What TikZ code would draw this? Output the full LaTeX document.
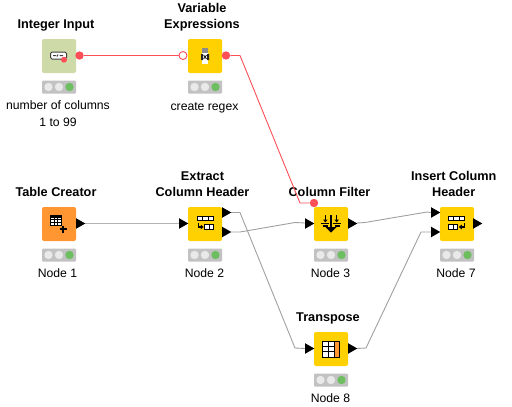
\documentclass[tikz,border=0pt]{standalone}
\usepackage{fontspec}
\setmainfont{Liberation Sans}
\definecolor{kyellow}{HTML}{FFD100}
\definecolor{korange}{HTML}{FF9632}
\definecolor{kgreen}{HTML}{CEDBA8}
\definecolor{kred}{HTML}{FC4F57}
\definecolor{kwire}{HTML}{A0A0A0}
\definecolor{ktraf}{HTML}{C2C2C2}
\definecolor{klamp}{HTML}{E9E9E9}
\definecolor{klgreen}{HTML}{6CBE5F}
\tikzset{
 x=1pt,y=-1pt,
 box/.style={minimum width=34pt,minimum height=34pt,inner sep=0,rounded corners=2pt,fill=#1},
 traf/.style={minimum width=34pt,minimum height=13pt,inner sep=0,rounded corners=1pt,fill=ktraf},
 lamp/.style={circle,minimum size=8.4pt,inner sep=0,fill=#1},
 ttl/.style={font=\fontsize{12.7}{16}\selectfont\bfseries,align=center,inner sep=0},
 lbl/.style={font=\fontsize{12.2}{16.5}\selectfont,align=center,inner sep=0},
 wire/.style={draw=kwire,line width=0.9pt},
 fwire/.style={draw=kred,line width=0.9pt},
 fport/.style={circle,minimum size=8.4pt,inner sep=0,fill=kred},
 fopen/.style={circle,minimum size=8pt,inner sep=0,draw=kred,fill=white,line width=0.9pt},
 ink/.style={draw=black,line width=1pt},
 tablecell/.style={draw=black,line width=1pt,fill=white},
}
\newcommand{\lights}[3]{%
 \node[traf] (#1t) at (#2,#3+31) {};
 \node[lamp=klamp] (#1a) at (#2-10.5,#3+31) {};
 \node[lamp=klamp] (#1b) at (#2,#3+31) {};
 \node[lamp=klgreen] (#1c) at (#2+10.5,#3+31) {};
}
\newcommand{\porttri}[3]{%
 \coordinate (#1) at (#2,#3);
 \fill[black] (#2,#3-5.3) -- (#2+9.3,#3) -- (#2,#3+5.3) -- cycle;
}
\begin{document}
\begin{tikzpicture}
\useasboundingbox (0,0) rectangle (512,407);
% wire bends
\coordinate (p1) at (240,55.5);
\coordinate (p2) at (300,203);
\coordinate (q1) at (240,212.5);
\coordinate (q2) at (295,348);
\coordinate (r1) at (240,232);
\coordinate (r2) at (295,222.5);
\coordinate (s1) at (365,222.5);
\coordinate (s2) at (427,212);
\coordinate (t1) at (366,348);
\coordinate (t2) at (421,232);
% nodes
\node[box=kgreen] (n1) at (59,56) {};
\node[box=kyellow] (n2) at (205,56) {};
\node[box=korange] (n3) at (59,224) {};
\node[box=kyellow] (n4) at (205,224) {};
\node[box=kyellow] (n5) at (331,224) {};
\node[box=kyellow] (n6) at (457,224) {};
\node[box=kyellow] (n7) at (331,349) {};
\lights{n1}{59}{56}\lights{n2}{205}{56}\lights{n3}{59}{224}\lights{n4}{205}{224}
\lights{n5}{331}{224}\lights{n6}{457}{224}\lights{n7}{331}{349}
% icon: Integer Input
\draw[draw=black!75,line width=1pt,fill=white,rounded corners=1.5pt] (50.5,52) rectangle (66.5,59);
\draw[black!75,line width=1pt] (53,55.5) -- (56,55.5) (58,54.5) -- (57,56.5) (59.5,55.5) -- (63,55.5);
\fill[kred] (64,59.7) circle (3);
% icon: Variable Expressions
\fill[black!45] (201.8,47.7) rectangle (208.4,53);
\fill[white] (201.8,53) rectangle (208.4,64);
\fill[black!85] (201.2,54) rectangle (203.2,60) (207,54) rectangle (209,60);
\draw[black,line width=0.7pt] (203.6,55) -- (206.6,59) (206.6,55) -- (203.6,59);
% icon: Table Creator
\draw[tablecell] (50.5,215.5) rectangle (61,225.5);
\fill[black] (50.5,215.5) rectangle (61,217.5);
\draw[black,line width=0.8pt] (54,215.5) -- (54,225.5) (57.5,215.5) -- (57.5,225.5) (50.5,219.5) -- (61,219.5) (50.5,222.5) -- (61,222.5);
\draw[black,line width=2pt] (59.8,229.3) -- (66.8,229.3) (63.3,225.8) -- (63.3,232.8);
% icon: Extract Column Header
\draw[tablecell] (197.5,216) rectangle (213.5,220.8);
\draw[ink] (202.8,216) -- (202.8,220.8) (208.2,216) -- (208.2,220.8);
\draw[tablecell] (204.5,224.5) rectangle (213.5,229.3);
\draw[ink] (209,224.5) -- (209,229.3);
\draw[black,line width=1.2pt] (198.7,222.5) -- (198.7,227) -- (202,227);
\fill[black] (203.6,227) -- (200.8,224.6) -- (200.8,229.4) -- cycle;
% icon: Column Filter
\draw[black,line width=1.8pt] (331,215) -- (331,228);
\fill[black] (331,232.5) -- (325.5,227) -- (336.5,227) -- cycle;
\draw[black,line width=1.1pt] (325.3,215) -- (325.3,220) (336.7,215) -- (336.7,220);
\fill[black] (325.3,222.5) -- (323,219.5) -- (327.6,219.5) -- cycle;
\fill[black] (336.7,222.5) -- (334.4,219.5) -- (339,219.5) -- cycle;
\draw[black,line width=1.1pt] (321,223.3) -- (329,223.3) (333,223.3) -- (341,223.3) (322.5,226) -- (327.5,226) (334.5,226) -- (339.5,226);
% icon: Insert Column Header
\draw[tablecell] (448.5,216) rectangle (464.5,220.8);
\draw[ink] (453.8,216) -- (453.8,220.8) (459.2,216) -- (459.2,220.8);
\draw[tablecell] (448.5,224.5) rectangle (457.5,229.3);
\draw[ink] (453,224.5) -- (453,229.3);
\draw[black,line width=1.2pt] (464.5,223.2) -- (464.5,227) -- (461,227);
\fill[black] (458.8,227) -- (461.8,224.6) -- (461.8,229.4) -- cycle;
% icon: Transpose
\draw[black,line width=0.9pt,fill=white] (322.9,341.5) rectangle (334,357);
\draw[black,line width=0.8pt] (328.4,341.5) -- (328.4,357) (322.9,346.6) -- (334,346.6) (322.9,351.8) -- (334,351.8);
\draw[black,line width=0.8pt,fill=korange] (334,341.5) rectangle (339.5,357);
% ports
\node[fport] (o1) at (79.5,55.5) {};
\node[fopen] (i2) at (183,55.5) {};
\node[fport] (o2) at (226,55.5) {};
\coordinate (a1) at (84,223.5);
\coordinate (b1) at (180,223.5);
\coordinate (b2) at (231,212.5);
\coordinate (b3) at (231,232);
\coordinate (c1) at (305,223);
\coordinate (c2) at (357,223);
\coordinate (d1) at (431,212.5);
\coordinate (d2) at (431,232);
\coordinate (e1) at (305,348.5);
\coordinate (e2) at (357,348.5);
\draw[fwire] (o1) -- (i2);
\draw[wire,draw=kwire!80,line width=1.3pt] (a1) -- (b1);
\draw[wire] (b2) -- (q1) -- (q2) -- (e1);
\draw[wire] (b3) -- (r1) -- (r2) -- (c1);
\draw[wire] (c2) -- (s1) -- (s2) -- (d1);
\draw[wire] (e2) -- (t1) -- (t2) -- (d2);
% titles
\node[ttl] (l1) at (56,25) {Integer Input};
\node[ttl] (l2) at (202,17.5) {Variable\\Expressions};
\node[ttl] (l3) at (56,192) {Table Creator};
\node[ttl] (l4) at (202.5,184) {Extract\\Column Header};
\node[ttl] (l5) at (329.5,192) {Column Filter};
\node[ttl] (l6) at (453.7,184) {Insert Column\\Header};
\node[ttl] (l7) at (328,318) {Transpose};
\node[fport] (f5) at (314,203) {};
\draw[fwire] (o2) -- (p1) -- (p2) -- (f5);
\node[lbl] (c1t) at (58,113.5) {number of columns\\1 to 99};
\node[lbl] (c2t) at (204.5,107.5) {create regex};
\node[lbl] (c3t) at (57.5,273) {Node 1};
\node[lbl] (c4t) at (204.5,273) {Node 2};
\node[lbl] (c5t) at (330.5,273) {Node 3};
\node[lbl] (c6t) at (456,273) {Node 7};
\node[lbl] (c7t) at (330.5,398) {Node 8};
\porttri{x1}{76}{223.5}
\porttri{x2}{179}{223.5}
\porttri{x3}{222}{212.5}
\porttri{x4}{222}{232}
\porttri{x5}{305}{223.5}
\porttri{x6}{348}{223.5}
\porttri{x7}{431}{212.5}
\porttri{x8}{431}{232}
\porttri{x9}{473}{223.5}
\porttri{x10}{305}{348.5}
\porttri{x11}{348}{348.5}
\end{tikzpicture}
\end{document}
